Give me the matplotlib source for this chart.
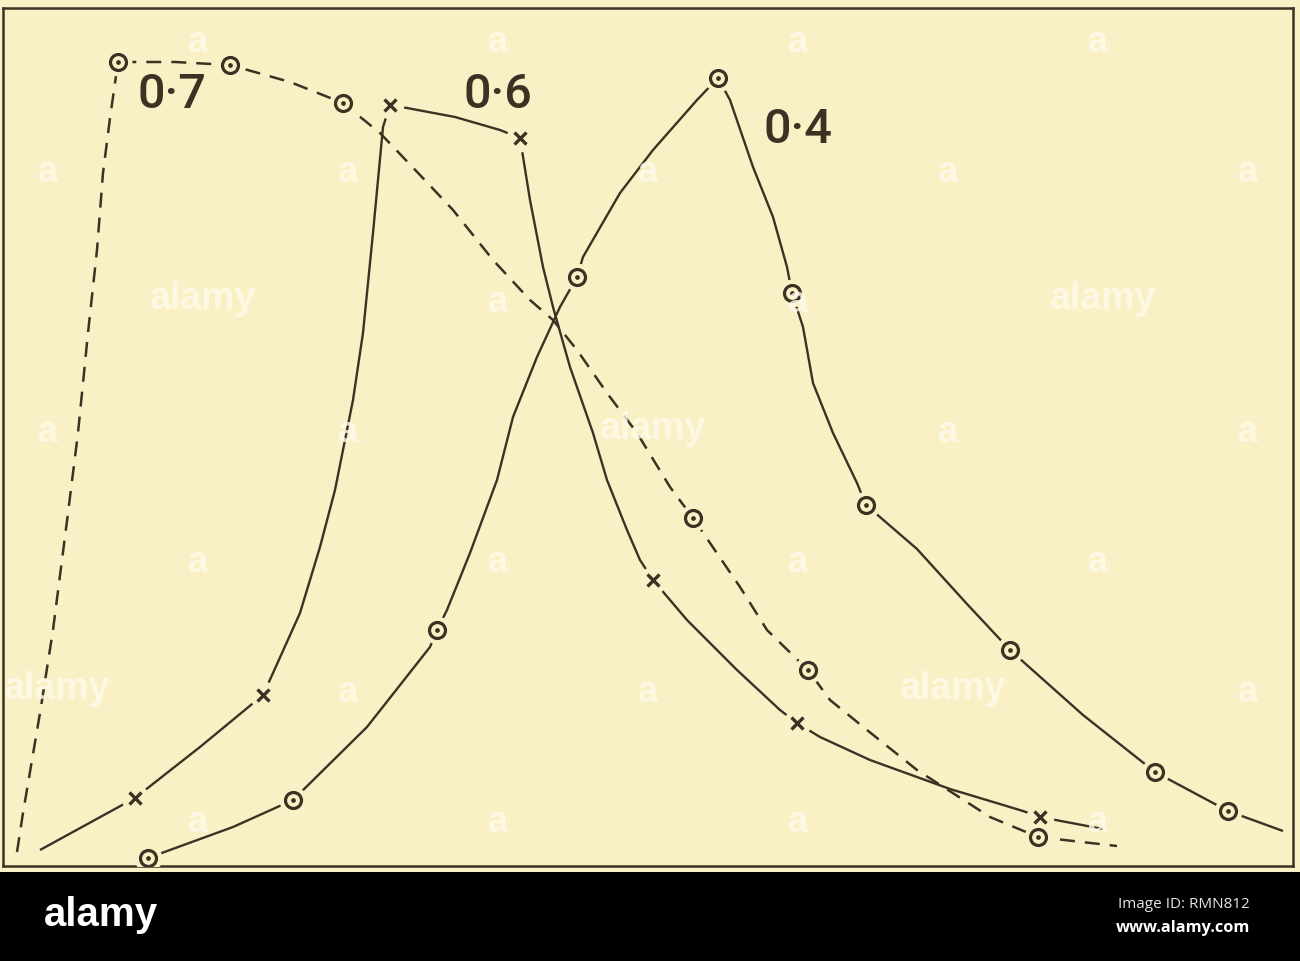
import matplotlib
matplotlib.use("Agg")
import matplotlib.pyplot as plt
from matplotlib.patches import Rectangle

# ---------------- data ----------------
# curve "0·7" (dashed, circle markers)
x07 = [14, 20, 37, 50, 65, 75, 85, 94, 100, 107, 115, 172, 227, 287, 340, 377, 417, 450,
       490, 527, 550, 574, 604, 634, 667, 690, 707, 737, 764, 805, 827, 864, 914, 987, 1035, 1114]
y07 = [14, 53, 153, 236, 353, 433, 533, 616, 693, 748, 804, 804, 801, 784, 763, 733, 691, 656,
       606, 566, 546, 516, 473, 433, 379, 348, 323, 279, 236, 196, 166, 136, 96, 49, 29, 20]
m07 = [10, 12, 14, 25, 29, 34]

# curve "0·6" (solid, cross markers)
x06 = [37, 132, 197, 260, 270, 297, 317, 332, 350, 360, 370, 380, 387, 404, 452, 497, 517,
       527, 540, 550, 567, 590, 604, 624, 637, 650, 684, 734, 777, 794, 817, 867, 947, 1020, 1037, 1100]
y06 = [16, 68, 119, 171, 193, 253, 319, 376, 466, 533, 633, 739, 761, 758, 749, 736, 728,
       666, 599, 559, 499, 433, 386, 336, 306, 286, 246, 196, 156, 143, 129, 106, 77, 55, 49, 37]
m06 = [1, 3, 12, 16, 25, 29, 34]

# curve "0·4" (solid, circle markers)
x04 = [145, 230, 290, 364, 427, 434, 444, 467, 494, 510, 534, 557, 574, 580, 617, 650, 694, 715,
       727, 750, 770, 784, 789, 800, 810, 830, 854, 863, 914, 964, 1007, 1080, 1152, 1225, 1280]
y04 = [8, 39, 66, 139, 219, 236, 256, 313, 386, 449, 509, 559, 589, 609, 673, 716, 766, 788,
       766, 699, 649, 599, 573, 539, 483, 433, 383, 361, 317, 262, 216, 151, 94, 55, 35]
m04 = [0, 2, 5, 12, 17, 22, 27, 30, 32, 33]

labels = ["0·7", "0·6", "0·4"]
label_x = [135, 460, 760]
label_y = [758, 758, 723]

# ---------------- style ----------------
BG = "#faf0c5"
INK = "#3a3324"
WM = "#fffbec"

fig = plt.figure(figsize=(13, 9.61), dpi=100)
fig.patch.set_facecolor(BG)
ax = fig.add_axes([3 / 1300, 95 / 961, 1290 / 1300, 858 / 961])
ax.set_facecolor(BG)
ax.set_xlim(0, 1290)
ax.set_ylim(0, 858)
ax.set_xticks([])
ax.set_yticks([])
for s in ax.spines.values():
    s.set_color(INK)
    s.set_linewidth(1.8)


def draw(xs, ys, marks, ls, kind):
    ax.plot(xs, ys, color=INK, lw=1.7 if ls == "-" else 1.8,
            linestyle=ls, dashes=(6, 4) if ls != "-" else (None, None), zorder=2,
            solid_capstyle="butt", solid_joinstyle="round")
    mx = [xs[i] for i in marks]
    my = [ys[i] for i in marks]
    ax.plot(mx, my, linestyle="none", marker="o", ms=19, mfc=BG, mec=BG, zorder=3)
    if kind == "o":
        ax.plot(mx, my, linestyle="none", marker="o", ms=11.5, mfc="none", mec=INK, mew=2.3, zorder=4)
        ax.plot(mx, my, linestyle="none", marker="o", ms=2.4, mfc=INK, mec=INK, zorder=4)
    else:
        ax.plot(mx, my, linestyle="none", marker="x", ms=8.5, mec=INK, mew=2.4, zorder=4)


draw(x07, y07, m07, "--", "o")
draw(x06, y06, m06, "-", "x")
draw(x04, y04, m04, "-", "o")

for t, lx, ly in zip(labels, label_x, label_y):
    ax.text(lx, ly, t, fontsize=35, color=INK, ha="left", va="baseline", weight="medium",
            family=["Roboto", "Liberation Sans", "DejaVu Sans"], zorder=5)

# ---------------- watermark ----------------
big = {(1, 2), (7, 2), (4, 3), (0, 5), (6, 5)}
for i in range(9):
    for j in range(7):
        if (i + j) % 2 == 0:
            continue
        px = 48 + 150 * i
        py = 43 + 130 * j
        if px > 1290:
            continue
        if (i, j) in big:
            if px < 60:
                fig.text(4 / 1300, 1 - (py - 4) / 961, "alamy", color=WM, alpha=0.8,
                         fontsize=27, weight="bold", ha="left", va="center",
                         family=["Liberation Sans", "DejaVu Sans"], zorder=6)
            else:
                fig.text((px + 5) / 1300, 1 - (py - 4) / 961, "alamy", color=WM, alpha=0.8,
                         fontsize=27, weight="bold", ha="center", va="center",
                         family=["Liberation Sans", "DejaVu Sans"], zorder=6)
        else:
            fig.text(px / 1300, 1 - py / 961, "a", color=WM, alpha=0.8,
                     fontsize=26, weight="bold", ha="center", va="center",
                     family=["Liberation Sans", "DejaVu Sans"], zorder=6)

# ---------------- footer band ----------------
fig.add_artist(Rectangle((0, 0), 1, 89 / 961, transform=fig.transFigure,
                         facecolor="black", edgecolor="none", zorder=7))
fig.text(101 / 1300, 1 - 915 / 961, "alamy", color="white", fontsize=29, weight="bold",
         ha="center", va="center",
         family=["Liberation Sans", "DejaVu Sans"], zorder=8)
fig.text(1250 / 1300, 1 - 904 / 961, "Image ID: RMN812", color="#e6e6e6", fontsize=11,
         ha="right", va="center", family=["Open Sans", "DejaVu Sans"], zorder=8)
fig.text(1250 / 1300, 1 - 928 / 961, "www.alamy.com", color="white", fontsize=11.8,
         weight="bold", ha="right", va="center", family=["Open Sans", "DejaVu Sans"], zorder=8)

fig.savefig("out.png", dpi=100, facecolor=BG)
